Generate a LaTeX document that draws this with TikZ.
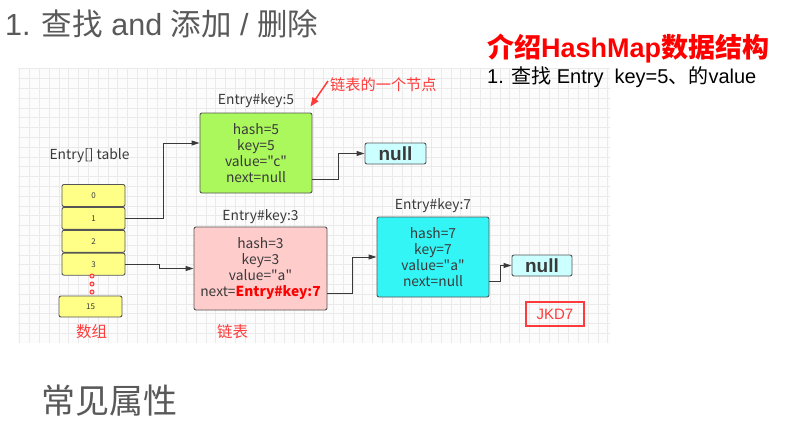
\documentclass[tikz,border=0pt]{standalone}
\usepackage{fontspec}
\setmainfont{Liberation Sans}
\newfontfamily\cjk{Noto Sans CJK SC}
\usetikzlibrary{arrows.meta, positioning}
\definecolor{txtgray}{HTML}{595959}\definecolor{txtdark}{HTML}{3A3A3A}
\definecolor{boxline}{HTML}{555555}\definecolor{cellyellow}{HTML}{FFFF88}
\definecolor{kgreen}{HTML}{AAF85C}\definecolor{kpink}{HTML}{FFCCCC}
\definecolor{kcyan}{HTML}{33F5F5}\definecolor{nullcyan}{HTML}{CCFFFF}
\definecolor{markred}{HTML}{FF3B3B}\definecolor{gridline}{HTML}{EAEAEA}

\begin{document}
\begin{tikzpicture}[x=1pt,y=-1pt,every node/.style={inner sep=0pt},
     cell/.style={rectangle, rounded corners=2pt, draw=boxline, line width=0.9pt, fill=cellyellow,
     minimum width=63pt, minimum height=22pt, text=txtdark, font=\cjk\fontsize{8}{9}\selectfont},
     entry/.style={rectangle, rounded corners=2pt, draw=boxline, line width=0.9pt, align=center,
     minimum width=112pt, minimum height=80pt, text=txtdark, font=\cjk\fontsize{13.8}{16.2}\selectfont},
     nullbox/.style={rectangle, rounded corners=2pt, draw=boxline, line width=0.9pt, fill=nullcyan,
     minimum width=61pt, minimum height=21pt, text=txtdark, font=\fontsize{19}{20}\selectfont\bfseries},
     tag/.style={text=txtdark, font=\cjk\fontsize{13.8}{15}\selectfont},
     redtag/.style={text=markred, font=\cjk\fontsize{15.5}{17}\selectfont},
     link/.style={draw=txtdark, line width=0.9pt, -{Triangle[length=8pt,width=5pt]}}]
     \useasboundingbox (0,0) rectangle (788,439);
     \fill[white] (0,0) rectangle (788,439);\fill[black!1] (18,68) rectangle (610,343);
     \draw[gridline, step=9.8pt] (18,68) grid (610,343);
     % headings
     \node (head) [anchor=west, text=txtgray, font=\fontsize{30.5}{32}\selectfont] at (5,24) {1. {\cjk 查找} and {\cjk 添加} / {\cjk 删除}};
     \node (intro) [anchor=west, text=red, font=\fontsize{27}{29}\selectfont\bfseries] at (487,49) {{\cjk 介绍}HashMap{\cjk 数据结构}};
     \node (task) [anchor=west, text=black, font=\fontsize{20}{22}\selectfont] at (487,77) {1. {\cjk 查找} Entry\ \ key=5{\cjk 、的}value};
     \node (attr) [anchor=west, text=txtgray, font=\cjk\fontsize{34}{36}\selectfont] at (41,401) {常见属性};
     % array
     \node (tbl) [tag] at (89.5,156) {Entry[] table};
     \node (c0) [cell] at (93.5,195.5) {0};
     \foreach \i [remember=\i as \j (initially 0)] in {1,2,3} \node (c\i) [cell, below=0pt of c\j] {\i};
     \foreach \y in {276,284,292} \draw[markred, line width=1pt, fill=kpink] (92,\y) circle (2);
     \node (c15) [cell, minimum height=21pt] at (90.5,306.5) {15};
     \node (arr) [redtag] at (91.5,332) {数组};\node (lst) [redtag] at (232.5,332) {链表};
     % entries
     \node (k5) [entry, fill=kgreen] at (256,153) {hash=5\\key=5\\value="c"\\next=null};
     \node (k3) [entry, fill=kpink, minimum width=133pt, minimum height=83pt] at (260.5,268.5)
          {hash=3\\key=3\\value="a"\\next={\color{red}\bfseries Entry\#key:7}};
     \node (k7) [entry, fill=kcyan] at (433,257) {hash=7\\key=7\\value="a"\\next=null};
     \node (t5) [tag, above=5pt of k5] {Entry\#key:5};\node (t3) [tag, above=3pt of k3] {Entry\#key:3};
     \node (t7) [tag, above=4pt of k7] {Entry\#key:7};
     \node (n1) [nullbox] at (395.5,153.5) {null};\node (n2) [nullbox, minimum width=60pt] at (542,265.5) {null};
     \node (jdk) [draw=markred, line width=1.4pt, minimum width=58pt, minimum height=24pt, text=markred,
          font=\fontsize{15}{16}\selectfont] at (555,314) {JKD7};
     \node (callout) [redtag, anchor=west, font=\cjk\fontsize{15.2}{17}\selectfont] at (330,85) {链表的一个节点};
     \coordinate (tip) at ([xshift=-2pt,yshift=6pt]k5.north east);
     % links
     \draw [link] (c1.east) -- ++(38,0) |- ([yshift=10pt]k5.west);\draw [link] (c3.east) -- ++(34,0) |- (k3.west);
     \draw [link] ([yshift=-26pt]k5.east) -- ++(26,0) |- (n1.west);\draw [link] ([yshift=-24.5pt]k3.east) -- ++(25,0) |- (k7.west);
     \draw [link] ([yshift=-24pt]k7.east) -- ++(11,0) |- (n2.west);
     \draw [markred, line width=1.5pt, -{Triangle[length=9pt,width=7pt]}] ([xshift=-2pt,yshift=4pt]callout.west) -- (tip);
\end{tikzpicture}
\end{document}
